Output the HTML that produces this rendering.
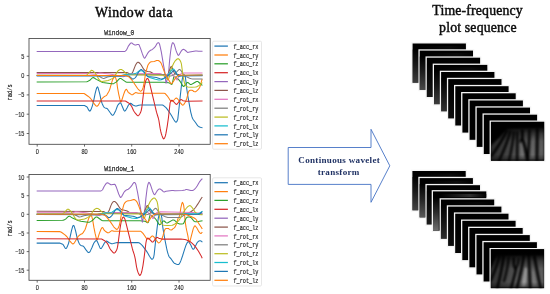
<!DOCTYPE html>
<html><head><meta charset="utf-8"><title>Window data to time-frequency plot sequence</title>
<style>html,body{margin:0;padding:0;background:#fff}body{width:550px;height:294px;overflow:hidden}svg{display:block}</style>
</head><body>
<svg width="550" height="294" viewBox="0 0 550 294">
<defs>
<linearGradient id="gL" x1="0" y1="0" x2="0" y2="1"><stop offset="0" stop-color="#000"/><stop offset="0.45" stop-color="#2c2c2c"/><stop offset="1" stop-color="#707070"/></linearGradient>
<linearGradient id="gT" x1="0" y1="0" x2="1" y2="0"><stop offset="0" stop-color="#000"/><stop offset="0.65" stop-color="#444"/><stop offset="1" stop-color="#000"/></linearGradient>
<linearGradient id="gFadeL" x1="0" y1="0" x2="1" y2="0"><stop offset="0" stop-color="#000" stop-opacity="0.5"/><stop offset="0.6" stop-color="#000" stop-opacity="0"/></linearGradient>
<clipPath id="clipI"><rect x="0" y="0" width="53.3" height="38.9"/></clipPath>
<filter id="blur" x="-20%" y="-20%" width="140%" height="140%"><feGaussianBlur stdDeviation="1.3"/></filter>
<filter id="blur2" x="-20%" y="-20%" width="140%" height="140%"><feGaussianBlur stdDeviation="0.85"/></filter>
<linearGradient id="gFade" x1="0" y1="0" x2="0" y2="1"><stop offset="0" stop-color="#000" stop-opacity="1"/><stop offset="0.13" stop-color="#000" stop-opacity="0.95"/><stop offset="0.3" stop-color="#000" stop-opacity="0.45"/><stop offset="0.5" stop-color="#000" stop-opacity="0.1"/><stop offset="0.84" stop-color="#000" stop-opacity="0"/><stop offset="0.95" stop-color="#000" stop-opacity="0.3"/><stop offset="1" stop-color="#000" stop-opacity="0.7"/></linearGradient>
</defs>
<rect width="550" height="294" fill="#fff"/>
<text x="134.1" y="17.4" text-anchor="middle" font-family="'Liberation Serif', serif" font-size="13.8" letter-spacing="0.42" fill="#0c0c0c" stroke="#0c0c0c" stroke-width="0.45">Window data</text>
<text x="477.6" y="15.2" text-anchor="middle" font-family="'Liberation Serif', serif" font-size="13.8" letter-spacing="0.15" fill="#0c0c0c" stroke="#0c0c0c" stroke-width="0.45">Time-frequency</text>
<text x="477.9" y="32.1" text-anchor="middle" font-family="'Liberation Serif', serif" font-size="13.8" letter-spacing="0.16" fill="#0c0c0c" stroke="#0c0c0c" stroke-width="0.45">plot sequence</text>
<g fill="none" stroke-width="1.05" stroke-linejoin="round" stroke-linecap="square">
<path d="M37.2,105.4 83.3,105.4 84.5,105.6 86.2,106.4 86.8,106.8 87.4,107.6 88.6,109.9 89.2,110.7 89.8,111.1 90.4,110.7 91,109.6 92.1,106.6 92.7,104.6 93.9,99.6 95.1,93.6 96.3,89.2 96.9,87.5 97.5,86.9 98.1,87.8 99.2,91.8 99.8,94.2 101,99.9 101.6,102 102.2,103.7 102.8,105.1 103.4,106.2 104,107.1 104.6,107.6 105.1,107.9 106.3,108.2 106.9,108.5 107.5,108.9 108.1,109.7 109.9,112.3 111.6,114.6 112.2,115.2 112.8,115.3 113.4,114.9 114,114 115.8,110.4 117.5,105.8 118.1,104.8 119.3,103.3 119.9,102.8 120.5,102.8 121.1,103.6 122.3,106.5 124,110.5 124.6,111.1 125.2,110.8 125.8,110.1 127,108 128.2,105.5 128.8,104.7 129.4,104 130,103.5 130.5,103.3 131.1,103.5 132.9,105 134.7,105.8 135.3,105.9 135.9,106 136.5,105.9 138.8,105.2 140.6,104.9 161.9,104.9 162.4,105 163,105.2 163.6,105.6 166,107.7 167.2,109.1 170.7,114.2 171.9,116.2 173.7,119.5 174.9,121.2 175.4,121.9 176,122.2 176.6,121.8 177.2,120.9 177.8,119.1 179,108.2 180.2,96.6 181.9,81.5 182.5,77.9 183.1,75.9 183.7,74.7 184.3,74.7 184.9,75.9 185.5,78 186.1,82.8 186.7,88.5 187.9,96.3 190.2,109.3 190.8,112.3 192,116.9 192.6,118.5 193.2,119.5 195.5,122.5 197.3,125.2 197.9,125.9 198.5,126.4 200.3,127.2 201.4,127.5 202,127.6" stroke="#1f77b4"/>
<path d="M37.2,93.5 83.3,93.5 83.9,93.5 84.5,93.8 88,96.2 89.8,97.7 91,99 91.6,99.8 93.3,102.6 95.7,105.6 96.3,106.1 96.9,106.3 97.5,106 98.1,105.4 99.8,102.5 101,100.2 101.6,99.2 102.8,97.8 104,96.8 105.7,95.9 106.3,95.5 106.9,94.8 108.7,91.8 109.3,90.5 109.9,88.8 112.2,80.9 112.8,79.3 114,77.4 114.6,76.8 115.2,76.9 115.8,78.3 116.4,80.3 117,83.7 117.5,87.7 118.7,94.1 119.9,99.4 120.5,101.5 121.1,101.9 121.7,100.5 123.5,94.9 124.6,91.8 125.2,90.5 125.8,89.6 126.4,89.3 127,90 128.2,92.3 128.8,92.8 131.1,94.4 131.7,94.7 132.3,94.8 132.9,94.5 134.7,93.1 135.3,92.8 135.9,92.6 136.5,92.7 138.2,93.3 164.2,93.2 164.8,93.4 165.4,93.8 167.2,95.8 168.9,98.3 170.1,100.2 170.7,100.6 171.3,101 171.9,101.2 172.5,101.3 173.1,101 175.4,98.5 176,98.1 176.6,98.1 177.2,98.5 179,100.7 180.2,102.6 181.9,104.7 182.5,105.2 183.1,105.1 183.7,104.6 184.9,102.8 185.5,101.7 186.7,98.7 188.4,92.1 189,91 189.6,90.5 190.2,90.2 192,90.2 192.6,90.4 193.2,91 193.8,91.5 194.9,91.8 195.5,91.8 196.1,91.3 197.3,90.3 198.5,89.2 199.1,88.4 199.7,87.3 200.3,85.9 200.9,83.9 201.4,81.5 202,79.7" stroke="#ff7f0e"/>
<path d="M37.2,82 86.8,81.8 87.4,81.6 89.8,80.3 92.1,78 92.7,77.7 93.3,77.6 93.9,77.8 96.3,79.4 101.6,82 102.8,82.4 111.6,83.8 112.8,83.8 113.4,83.7 114,83.4 116.4,81.9 117,81.4 118.7,79.4 119.3,78.8 119.9,78.5 120.5,78.4 121.1,78.6 125.8,81.9 126.4,82.1 163.6,82.2 168.4,82.7 168.9,82.8 169.5,83.1 170.7,83.9 171.3,84.3 171.9,84.4 172.5,82.5 173.7,77.1 174.3,76.2 174.9,76.7 175.4,77.3 176,77.7 177.2,78.3 178.4,79.3 179.6,80.6 181.9,84.2 182.5,85.4 183.1,86.3 183.7,86.5 184.3,86 186.7,83 187.3,82.5 187.9,82.4 188.4,82.8 189.6,83.9 190.2,84.4 190.8,84.5 191.4,84.4 192.6,83.8 196.1,81.7 196.7,81.5 197.3,81.4 197.9,81.6 198.5,82 201.4,84.7 202,85.1" stroke="#2ca02c"/>
<path d="M37.2,101 124.6,101 125.2,101.1 125.8,101.3 128.2,102.7 129.4,103.6 130.5,104.8 131.1,105.6 131.7,106.5 132.3,107.7 133.5,110.5 134.1,111.5 135.3,113.2 137,115.2 137.6,115.7 138.2,115.8 138.8,115.3 139.4,114.5 140,113.5 140.6,112.3 141.2,110.6 141.8,107.7 143.5,93.2 144.1,89 144.7,85.4 145.3,82.6 145.9,80.4 146.5,79.2 147.1,78.5 147.7,78.5 148.3,79.4 148.9,80.6 149.5,82.7 156.5,112.2 158.3,118 158.9,120.5 160.1,128.2 160.7,131.2 161.3,133.5 161.9,135.4 163,138.2 163.6,138.9 164.2,138.5 164.8,137.4 165.4,135.9 166,133.2 167.2,126.4 168.4,118 170.1,102.9 170.7,101.3 171.3,100.4 171.9,100.2 172.5,100.5 174.3,102.3 175.4,103.7 176,104.2 176.6,104.4 177.2,104 180.2,100 180.8,99.6 181.4,99.6 181.9,99.9 183.1,100.7 184.9,101.1 186.1,101.3 202,101.1" stroke="#d62728"/>
<path d="M37.2,51.4 124.6,51.4 125.2,51.2 125.8,50.7 126.4,50.1 127,49.1 128.2,46.4 130,43.9 130.5,43.3 131.1,43 131.7,42.9 132.3,43.3 133.5,44.3 134.7,44.9 135.3,45.1 135.9,45 136.5,44.8 137,44.6 138.2,44.5 138.8,44.6 139.4,45.6 140.6,48.6 142.4,53.9 143.5,56.7 144.1,57.8 144.7,58.2 145.3,57.6 147.7,53.3 148.3,52.4 148.9,51.7 150,50.7 150.6,50.3 151.8,49.8 152.4,49.4 153.6,48.4 154.8,47.1 155.4,46.4 156.5,44.4 157.1,43.5 157.7,42.9 158.3,42.6 158.9,43 159.5,44 160.1,46.3 161.3,51.8 163.6,65.6 164.2,68.6 164.8,72.1 165.4,78.1 166,83.1 166.6,82.4 167.2,79.2 167.8,77 168.4,74.4 168.9,69.3 169.5,61.6 170.1,55.8 170.7,51 171.3,46.9 171.9,44.4 172.5,42.7 173.1,42.8 173.7,43.5 174.3,44.6 176,50.4 176.6,52.1 177.8,54.8 178.4,55.4 179,54.9 180.8,51.8 181.4,50.9 182.5,49.7 183.1,49.4 183.7,49.3 184.3,49.6 185.5,50.5 187.3,52.2 187.9,52.4 188.4,52.3 189.6,51.9 195.5,50.9 196.7,51 198.5,51.3 202,51.2" stroke="#9467bd"/>
<path d="M37.2,72.5 127,72.6 127.6,72.7 128.8,73.4 130.5,73.9 131.1,74 131.7,73.7 132.3,72.9 132.9,71.8 135.3,65.6 135.9,64.4 136.5,63.4 137,62.8 137.6,62.3 138.2,62.2 138.8,62.5 140,63.5 141.2,65 143.5,68.9 144.1,69.7 144.7,70.3 145.9,70.9 147.7,71.4 150,71.8 150.6,72 153.6,73.7 154.2,74 158.9,74.5 164.2,74.5 164.8,74.7 166,75.2 166.6,75.4 167.2,75.4 167.8,74.6 170.7,67 171.3,66.4 171.9,67.2 174.3,73 174.9,73.9 175.4,74.1 178.4,74.6 180.8,75.2 181.9,75.4 202,75.2" stroke="#8c564b"/>
<path d="M37.2,73.4 87.4,73.5 93.9,74.3 95.1,74.3 96.3,74.1 98.6,73.2 99.8,73 109.9,74 116.4,75.3 121.1,76.6 122.9,76.8 123.5,76.8 124,76.6 127,74.9 127.6,74.6 132.3,73.7 160.1,73.6 160.7,73.7 161.3,74 163.6,75.6 164.2,75.8 164.8,76 165.4,75.9 166,75.7 167.2,74.8 168.4,73.8 168.9,73.3 169.5,73.1 170.1,73 170.7,73.1 171.3,73.5 171.9,73.9 174.9,77.1 175.4,77.9 176,79 176.6,79.8 177.2,79.9 177.8,78.8 178.4,77.3 179,76 180.2,74.4 180.8,73.9 182.5,73.3 183.7,73 202,73" stroke="#e377c2"/>
<path d="M37.2,75.3 96.3,75.4 96.9,75.5 98.1,75.9 100.4,77 102.2,78.1 102.8,78.3 103.4,78.4 104,78.4 105.1,78 107.5,77.1 111.6,76.3 120.5,75.9 124.6,74.8 165.4,74.5 166.6,74.9 168.9,75.8 169.5,76 170.1,76 171.3,75.8 172.5,75.4 174.9,74.1 175.4,73.6 177.2,71.3 178.4,70.1 179,69.6 179.6,69.4 180.2,69.8 181.4,71.2 182.5,73.3 183.1,74.2 184.3,75.4 184.9,75.9 186.1,76.6 189.6,78.3 191.4,78.7 192.6,78.9 202,78.9" stroke="#7f7f7f"/>
<path d="M37.2,75.3 86.2,75.3 86.8,75 89.2,72.6 90.4,71.2 91,70.7 91.6,70.3 92.1,70.4 92.7,70.6 94.5,72.3 95.1,73 97.5,76.8 98.6,78.9 99.2,79.7 100.4,80.8 101,81.3 101.6,81.5 102.2,81.6 108.1,80.4 109.9,79.8 111.6,78.9 112.8,78.1 113.4,77.6 114.6,76.1 117.5,71.6 118.1,70.8 119.3,70 119.9,69.6 120.5,69.4 121.1,69.4 121.7,69.6 123.5,70.8 124,71.3 125.8,73.1 127,74 127.6,74.4 130,74.8 163,75.3 163.6,75.5 164.2,76.1 165.4,77.4 167.2,79 167.8,79.4 168.4,79.4 168.9,78.2 169.5,76 170.1,73.4 170.7,70.3 171.3,68.5 173.7,63.3 174.9,61.3 175.4,60.6 176.6,59.5 177.2,59 177.8,58.7 178.4,58.8 179,59.2 180.2,60.7 180.8,61.9 181.4,63.8 181.9,67.6 183.1,76.2 183.7,79.6 184.3,82.3 184.9,84.3 185.5,85.3 186.1,86 186.7,86.4 187.9,86.9 191.4,87.3 195.5,87 196.1,86.9 197.3,86.5 199.1,85.4 201.4,83.5 202,82.9" stroke="#bcbd22"/>
<path d="M37.2,75.5 121.1,75.5 125.8,74.7 128.2,74.3 134.1,73.7 135.9,73.3 137,72.6 138.2,71.6 139.4,71.1 141.2,70.7 141.8,70.7 143,71.4 144.1,72.4 147.1,76 147.7,76.6 148.3,77.1 149.5,77.6 155.4,79.3 158.9,79.9 160.1,79.9 161.3,79.7 163.6,78.7 164.8,77.9 166,77 167.2,75.8 168.9,73.5 170.7,71.1 172.5,69.4 173.1,69.1 173.7,69.1 174.3,69.7 175.4,71.5 176.6,73.5 177.8,75.2 178.4,76 179,76.3 179.6,76.2 181.4,75.6 202,75.1" stroke="#17becf"/>
<path d="M37.2,76 128.2,75.9 128.8,76 129.4,76.3 132.3,78.9 132.9,79.1 133.5,78.9 134.7,78.1 135.3,77.6 135.9,76.9 136.5,76 138.2,72.8 139.4,71 140.6,69.7 141.2,69.5 141.8,69.8 143,70.7 144.1,71.9 144.7,72.6 145.9,74.6 147.1,75.9 147.7,76.4 148.3,76.6 156.5,77.6 157.7,77.9 160.1,78.8 161.3,79.1 161.9,79.1 163.6,78.4 166,77 171.3,72.8 173.1,70.9 173.7,70.6 174.3,70.6 174.9,71.2 175.4,72 176.6,74 177.8,75.6 178.4,76 202,75.8" stroke="#1f77b4"/>
<path d="M37.2,75.5 125.2,75.4 126.4,75.7 128.2,76.4 128.8,76.8 130.5,78.4 131.7,79.8 134.1,83.2 137.6,88.5 138.2,89.2 139.4,90.4 140,90.9 140.6,91.2 141.2,91 141.8,90.4 142.4,89.4 143,87.9 143.5,85.8 144.1,82.8 145.3,75.1 145.9,72 147.7,65.8 148.3,64.5 148.9,63.7 150,62.4 150.6,62 151.2,61.8 154.2,61.4 155.4,61.1 156.5,60.6 157.1,60.5 157.7,60.4 158.3,60.5 159.5,61.2 160.1,61.8 160.7,62.6 161.3,63.6 162.4,66.4 164.8,73.1 165.4,74.4 167.8,78.6 170.7,83.3 171.3,83.8 171.9,83.5 173.1,81.9 174.9,78.9 176,77.3 176.6,76.7 177.2,76.2 178.4,75.6 179.6,75.2 202,75.1" stroke="#ff7f0e"/>
</g>
<rect x="29" y="38.5" width="181.2" height="105.8" fill="none" stroke="#454545" stroke-width="0.85"/>
<g stroke="#454545" stroke-width="0.8">
<line x1="37.2" y1="144.3" x2="37.2" y2="146.6"/>
<line x1="84.5" y1="144.3" x2="84.5" y2="146.6"/>
<line x1="131.7" y1="144.3" x2="131.7" y2="146.6"/>
<line x1="179" y1="144.3" x2="179" y2="146.6"/>
<line x1="26.7" y1="56.3" x2="29" y2="56.3"/>
<line x1="26.7" y1="75.6" x2="29" y2="75.6"/>
<line x1="26.7" y1="94.9" x2="29" y2="94.9"/>
<line x1="26.7" y1="114.2" x2="29" y2="114.2"/>
<line x1="26.7" y1="133.5" x2="29" y2="133.5"/>
</g>
<g font-family="'Liberation Sans', sans-serif" font-size="6.9" fill="#262626" stroke="#262626" stroke-width="0.12">
<text x="37.2" y="153.8" text-anchor="middle" textLength="3.1" lengthAdjust="spacingAndGlyphs">0</text>
<text x="84.5" y="153.8" text-anchor="middle" textLength="6.2" lengthAdjust="spacingAndGlyphs">80</text>
<text x="131.7" y="153.8" text-anchor="middle" textLength="9.3" lengthAdjust="spacingAndGlyphs">160</text>
<text x="179" y="153.8" text-anchor="middle" textLength="9.3" lengthAdjust="spacingAndGlyphs">240</text>
<text x="24.4" y="58.8" text-anchor="end" textLength="3.1" lengthAdjust="spacingAndGlyphs">5</text>
<text x="24.4" y="78.1" text-anchor="end" textLength="3.1" lengthAdjust="spacingAndGlyphs">0</text>
<text x="24.4" y="97.4" text-anchor="end" textLength="6.3" lengthAdjust="spacingAndGlyphs">−5</text>
<text x="24.4" y="116.7" text-anchor="end" textLength="9.4" lengthAdjust="spacingAndGlyphs">−10</text>
<text x="24.4" y="136" text-anchor="end" textLength="9.4" lengthAdjust="spacingAndGlyphs">−15</text>
</g>
<text x="119.3" y="34.7" text-anchor="middle" font-family="'Liberation Mono', monospace" font-size="8" textLength="30.2" lengthAdjust="spacingAndGlyphs" fill="#262626" stroke="#262626" stroke-width="0.25">Window_0</text>
<text transform="translate(11.6 92.3) rotate(-90)" text-anchor="middle" font-family="'Liberation Mono', monospace" font-size="7.3" textLength="16.3" lengthAdjust="spacingAndGlyphs" fill="#262626" stroke="#262626" stroke-width="0.2">rad/s</text>
<rect x="212.6" y="41.2" width="48.9" height="108" rx="1.2" fill="#fff" stroke="#dcdcdc" stroke-width="0.7"/>
<g stroke-width="1.25">
<line x1="214.4" y1="46.1" x2="227.9" y2="46.1" stroke="#1f77b4"/>
<line x1="214.4" y1="55" x2="227.9" y2="55" stroke="#ff7f0e"/>
<line x1="214.4" y1="63.8" x2="227.9" y2="63.8" stroke="#2ca02c"/>
<line x1="214.4" y1="72.7" x2="227.9" y2="72.7" stroke="#d62728"/>
<line x1="214.4" y1="81.6" x2="227.9" y2="81.6" stroke="#9467bd"/>
<line x1="214.4" y1="90.4" x2="227.9" y2="90.4" stroke="#8c564b"/>
<line x1="214.4" y1="99.3" x2="227.9" y2="99.3" stroke="#e377c2"/>
<line x1="214.4" y1="108.2" x2="227.9" y2="108.2" stroke="#7f7f7f"/>
<line x1="214.4" y1="117.1" x2="227.9" y2="117.1" stroke="#bcbd22"/>
<line x1="214.4" y1="125.9" x2="227.9" y2="125.9" stroke="#17becf"/>
<line x1="214.4" y1="134.8" x2="227.9" y2="134.8" stroke="#1f77b4"/>
<line x1="214.4" y1="143.7" x2="227.9" y2="143.7" stroke="#ff7f0e"/>
</g>
<g font-family="'Liberation Mono', monospace" font-size="7.5" fill="#262626" stroke="#262626" stroke-width="0.2">
<text x="233.4" y="48.7" textLength="25" lengthAdjust="spacingAndGlyphs">f_acc_rx</text>
<text x="233.4" y="57.6" textLength="25" lengthAdjust="spacingAndGlyphs">f_acc_ry</text>
<text x="233.4" y="66.4" textLength="25" lengthAdjust="spacingAndGlyphs">f_acc_rz</text>
<text x="233.4" y="75.3" textLength="25" lengthAdjust="spacingAndGlyphs">f_acc_lx</text>
<text x="233.4" y="84.2" textLength="25" lengthAdjust="spacingAndGlyphs">f_acc_ly</text>
<text x="233.4" y="93" textLength="25" lengthAdjust="spacingAndGlyphs">f_acc_lz</text>
<text x="233.4" y="101.9" textLength="25" lengthAdjust="spacingAndGlyphs">f_rot_rx</text>
<text x="233.4" y="110.8" textLength="25" lengthAdjust="spacingAndGlyphs">f_rot_ry</text>
<text x="233.4" y="119.7" textLength="25" lengthAdjust="spacingAndGlyphs">f_rot_rz</text>
<text x="233.4" y="128.5" textLength="25" lengthAdjust="spacingAndGlyphs">f_rot_lx</text>
<text x="233.4" y="137.4" textLength="25" lengthAdjust="spacingAndGlyphs">f_rot_ly</text>
<text x="233.4" y="146.3" textLength="25" lengthAdjust="spacingAndGlyphs">f_rot_lz</text>
</g>
<g fill="none" stroke-width="1.05" stroke-linejoin="round" stroke-linecap="square">
<path d="M37.2,243.1 59.7,243.1 60.8,243.4 62.6,244.2 63.2,244.7 65,247.8 65.6,248.5 66.1,248.5 66.7,247.8 67.3,246.6 68.5,243.5 69.7,238.9 71.5,230.6 72.6,226.6 73.2,225.4 73.8,225.5 74.4,226.8 75.6,230.9 76.8,236.3 77.4,238.8 78,240.5 78.6,242.1 79.1,243.3 79.7,244.3 80.3,245 80.9,245.4 82.7,245.9 83.3,246.2 83.9,246.8 85.6,249.4 87.4,251.6 88,252.3 88.6,252.6 89.2,252.5 89.8,251.9 90.4,250.9 92.1,247.3 93.3,244.2 93.9,243 95.1,241.4 95.7,240.8 96.3,240.5 96.9,240.8 97.5,242 99.8,247.4 100.4,248.4 101,248.6 101.6,248.1 103.4,245.1 104,243.8 104.6,242.8 105.7,241.5 106.3,241.1 106.9,241.1 107.5,241.5 108.7,242.5 110.5,243.3 111.6,243.7 112.2,243.7 113.4,243.4 115.2,242.9 117,242.6 138.2,242.6 138.8,242.7 139.4,243 140.6,243.9 142.4,245.6 146.5,251.1 147.7,253 149.5,256.2 151.2,258.7 151.8,259.3 152.4,259.2 153,258.6 153.6,257.5 154.2,254.3 156,237.4 158.3,218.1 158.9,215.6 159.5,213.9 160.1,213.2 160.7,213.8 161.3,215.4 161.9,218.2 162.4,224.1 163,228.7 164.8,239.1 166.6,248.2 167.2,250.8 167.8,253.1 168.4,254.9 168.9,256.2 169.5,257.1 171.3,259.2 173.7,262.6 174.3,263.2 174.9,263.6 176.6,264.2 177.8,264.5 178.4,264.5 179,264.2 180.2,262.2 180.8,260.9 182.5,256 184.9,248.3 186.1,244.9 186.7,243.7 187.3,242.6 187.9,241.8 188.4,241.6 189,242.1 190.8,245 192,247.7 192.6,248.8 193.2,249.3 193.8,249 194.4,248.1 196.1,244.8 196.7,243.5 197.3,242.4 198.5,241.3 199.1,241 199.7,240.8 200.3,240.8 200.9,241 201.4,241.3 202,241.8" stroke="#1f77b4"/>
<path d="M37.2,231.5 59.7,231.6 60.2,231.7 61.4,232.3 65,234.9 66.7,236.5 67.3,237.2 69.7,240.8 71.5,242.9 72.1,243.5 72.6,243.9 73.2,243.9 73.8,243.5 74.4,242.7 76.2,239.8 77.4,237.6 78,236.7 79.1,235.5 80.3,234.6 82.1,233.8 82.7,233.2 83.3,232.4 84.5,230.5 85.1,229.4 85.6,228 88.6,218.7 89.2,217.4 89.8,216.5 90.4,215.7 91,215.4 91.6,216 92.1,217.7 92.7,220.1 93.9,227.4 95.1,233.4 96.3,238.3 96.9,239.8 97.5,239.3 98.6,235.9 99.2,233.9 101,229.3 101.6,228.2 102.2,227.6 102.8,227.8 103.4,228.7 104,229.9 104.6,230.7 105.7,231.5 107.5,232.7 108.1,232.8 108.7,232.8 109.3,232.4 111,231.1 111.6,230.8 112.2,230.7 114,231.3 140.6,231.3 141.2,231.6 143,233.4 144.7,235.8 145.9,237.6 146.5,238.3 147.7,239 148.3,239.1 148.9,239 149.5,238.6 151.8,236.2 152.4,235.9 153,236.2 153.6,236.7 154.8,238.1 156.5,240.7 157.7,242.1 158.3,242.7 158.9,242.9 159.5,242.6 160.1,242 161.3,240.2 161.9,239 162.4,237.5 163,235.7 164.2,231.4 164.8,229.6 165.4,228.9 166,228.5 166.6,228.4 168.4,228.4 168.9,228.9 169.5,229.4 170.1,229.7 171.3,230 171.9,229.8 173.1,228.7 174.3,227.8 174.9,227.2 175.4,226.2 176,225 176.6,223.5 177.8,219.1 178.4,217.8 179,217 179.6,215.7 180.2,212.3 180.8,208.2 181.4,205.5 181.9,203.3 182.5,202.4 183.1,203.4 183.7,205.6 184.3,210.1 184.9,218.8 185.5,223.7 186.1,227.4 186.7,230.5 187.9,235.8 188.4,239 189,241.6 189.6,242 190.2,240.3 193.2,228.9 193.8,227.4 194.4,226.2 194.9,225.8 195.5,226.2 196.7,227.8 198.5,231.1 199.7,232.7 200.3,233.3 200.9,233.5 201.4,233.2 202,232.4" stroke="#ff7f0e"/>
<path d="M37.2,220.5 62.6,220.3 63.2,220.2 64.4,219.7 65.6,219.1 66.1,218.6 67.9,216.9 68.5,216.4 69.1,216.2 69.7,216.3 70.3,216.6 72.6,218.1 78,220.6 80.9,221.3 88,222.2 89.2,222.2 89.8,222 91,221.4 92.7,220.2 93.3,219.7 95.1,217.7 95.7,217.2 96.3,217 96.9,217.1 97.5,217.3 101.6,220.2 102.2,220.5 102.8,220.7 140,220.7 144.7,221.2 145.3,221.4 147.1,222.5 147.7,222.8 148.3,222.3 149.5,217.1 150,215 150.6,215 151.8,216.1 153.6,217.1 154.8,218.2 156,219.5 157.7,222.1 158.9,224.2 159.5,224.8 160.1,224.6 160.7,224 163,221.2 163.6,220.9 164.2,221 164.8,221.5 166,222.6 166.6,222.9 167.2,222.9 167.8,222.7 172.5,220.1 173.1,219.9 173.7,219.9 174.3,220.2 176,221.7 177.2,222.9 177.8,223.3 179.6,223.9 180.2,224 181.9,223.9 183.1,223.7 183.7,223.3 186.1,218.2 186.7,217.6 187.9,217.1 188.4,217 189,217 189.6,217.1 190.8,217.5 191.4,217.9 193.8,221 194.4,221.4 195.5,221.7 196.7,221.8 202,220.8" stroke="#2ca02c"/>
<path d="M37.2,238.8 101,238.9 101.6,239 104.6,240.7 105.7,241.6 106.3,242.2 106.9,242.8 108.1,244.6 109.3,247.3 109.9,248.5 111,250.2 113.4,252.8 114,253.1 114.6,253 115.2,252.4 116.4,250.5 117,249.1 117.5,247.2 118.1,243.4 119.9,229.4 120.5,225.6 121.1,222.5 121.7,220 122.3,218.3 122.9,217.4 123.5,217 124,217.4 124.6,218.5 125.2,219.9 132.3,248.4 132.9,250.5 134.1,254.2 134.7,256.3 135.3,259.1 136.5,266.6 137,269 137.6,271.1 138.2,272.7 138.8,274.1 139.4,275.2 140,275.4 140.6,274.7 141.2,273.4 141.8,271.5 143,265.3 144.1,257.7 145.9,243 146.5,239.8 147.1,238.7 147.7,238.1 148.3,238.2 148.9,238.6 150.6,240.4 151.8,241.7 152.4,242.1 153,242 153.6,241.4 154.8,239.7 156.5,237.6 157.1,237.4 157.7,237.6 158.9,238.3 159.5,238.6 161.9,239.1 180.8,239 184.9,239.5 186.7,240 190.2,241.8 191.4,242.6 193.8,244.8 195.5,246.9 198.5,251.2 200.9,255.4 202,257.8" stroke="#d62728"/>
<path d="M37.2,190.9 101,190.9 101.6,190.6 102.2,190 102.8,189.3 104,186.7 104.6,185.7 105.7,184.1 106.3,183.4 106.9,182.9 107.5,182.7 108.1,182.9 109.3,183.8 110.5,184.5 111,184.8 111.6,184.8 112.8,184.4 114.6,184.2 115.2,184.7 116.4,187.3 118.7,194 119.9,196.6 120.5,197.4 121.1,197.3 121.7,196.5 124,192.3 124.6,191.5 125.8,190.4 126.4,190 128.2,189.2 128.8,188.8 130.5,187.2 131.7,185.7 132.9,183.7 133.5,183 134.1,182.5 134.7,182.5 135.3,183.2 135.9,184.5 137.6,192.6 139.4,202.9 140.6,208.9 141.2,213.4 141.8,219 142.4,222.2 143.5,216.8 144.1,214.6 144.7,211.5 145.9,198.1 147.1,188.5 147.7,185.4 148.3,183.3 148.9,182.4 149.5,182.8 150,183.7 150.6,185.2 152.4,190.7 153.6,193.6 154.2,194.6 154.8,194.7 155.4,193.8 156,192.7 157.1,190.9 157.7,190.1 158.9,189.1 159.5,188.9 160.1,189 160.7,189.4 161.9,190.2 163,191.4 163.6,191.8 164.2,191.9 166,191.3 171.9,190.4 173.1,190.5 174.9,190.8 182.5,190.4 184.9,189.9 186.1,189.6 186.7,189.5 187.9,189.7 190.8,190.5 192,190.6 192.6,190.5 193.2,190.3 194.4,189.4 194.9,188.9 196.1,187.5 197.3,185.7 199.7,181.6 200.9,180.2 202,179" stroke="#9467bd"/>
<path d="M37.2,211.3 102.8,211.4 103.4,211.4 105.1,212.3 106.9,212.7 107.5,212.7 108.1,212.2 108.7,211.2 109.3,210 111,205.4 111.6,204.1 112.2,203 112.8,202.2 113.4,201.7 114,201.4 114.6,201.4 115.2,201.8 116.4,202.9 117.5,204.4 119.9,208.2 120.5,208.9 121.1,209.3 122.3,209.8 126.4,210.7 127.6,211.3 129.4,212.4 130,212.6 134.7,213.2 140,213.2 140.6,213.3 142.4,214.1 143,214.2 143.5,213.9 144.1,212.7 145.3,209.5 146.5,206.7 147.1,205.6 147.7,205.6 148.3,206.8 148.9,208.3 150,211.1 150.6,212.3 151.2,212.8 154.8,213.4 157.1,214 184.3,213.7 187.9,213.3 188.4,213.1 190.8,211.8 192.6,210.5 193.8,209.5 195.5,207.5 197.9,203.9 200.9,199 202,197.4" stroke="#8c564b"/>
<path d="M37.2,212.2 63.2,212.2 70.3,213 71.5,213 72.6,212.8 75,211.9 75.6,211.8 85.6,212.7 92.7,214.1 96.9,215.2 98.6,215.4 99.2,215.5 99.8,215.4 101,214.8 103.4,213.5 108.1,212.5 135.9,212.4 136.5,212.4 137,212.6 140,214.4 140.6,214.6 141.2,214.7 141.8,214.5 142.4,214.2 144.7,212.3 145.3,212 145.9,211.8 146.5,211.8 147.1,212 147.7,212.4 148.9,213.5 151.2,216.1 152.4,218 153,218.5 153.6,218.1 154.8,215.3 155.4,214.3 156,213.6 156.5,212.9 157.1,212.5 158.9,212 160.1,211.8 193.2,212.4 202,213.5" stroke="#e377c2"/>
<path d="M37.2,214 72.6,214.1 73.2,214.2 76.8,215.8 78.6,216.8 79.1,217 79.7,217 80.9,216.8 83.9,215.7 88,214.9 96.3,214.7 98.1,214.3 100.4,213.6 141.2,213.2 141.8,213.3 145.3,214.6 145.9,214.7 147.1,214.6 148.3,214.2 150.6,213 151.2,212.7 151.8,212.1 153,210.5 154.8,208.7 155.4,208.3 156,208.4 156.5,208.9 157.7,210.5 158.9,212.5 160.1,213.8 160.7,214.4 161.9,215.1 165.4,216.8 167.8,217.4 179.6,217.4 180.2,217.4 180.8,217.2 183.1,215.9 184.9,214.6 185.5,214.4 189.6,214 202,214.1" stroke="#7f7f7f"/>
<path d="M37.2,214.1 62,214.1 62.6,213.9 63.2,213.5 65.6,211.1 66.7,209.8 67.3,209.3 67.9,209.2 68.5,209.3 69.1,209.7 70.9,211.4 72.1,213.1 75,217.9 75.6,218.6 76.8,219.6 77.4,219.9 78,220.1 79.1,220 84.5,218.9 86.2,218.3 88,217.4 89.2,216.5 89.8,216 92.7,211.8 93.9,210.1 94.5,209.4 95.7,208.7 96.3,208.4 96.9,208.3 97.5,208.4 98.1,208.6 99.8,209.8 101.6,211.6 103.4,212.9 104,213.2 106.9,213.7 138.8,214 139.4,214.1 140,214.4 141.8,216.3 143.5,217.8 144.1,218.1 144.7,217.6 145.3,215.9 145.9,213.7 146.5,210.7 147.1,208.3 147.7,206.8 149.5,203 150,201.9 151.2,200.2 151.8,199.5 153,198.5 153.6,198.1 154.2,198 154.8,198.2 155.4,198.8 156.5,200.4 157.1,201.7 157.7,204.4 158.9,212.8 159.5,216.4 160.1,219.4 160.7,221.8 161.3,223.2 161.9,224 162.4,224.6 163,224.9 164.2,225.2 167.8,225.6 171.9,225.3 172.5,225.2 174.9,224 177.2,222.2 178.4,221 179.6,219.4 183.7,212 186.1,208.5 187.3,207.2 188.4,206.2 189,205.9 189.6,205.6 190.2,205.7 190.8,206 192.6,208.1 193.2,208.9 194.4,210.9 194.9,211.8 196.1,212.9 197.3,213.9 197.9,214.2 198.5,214.4 201.4,214.8 202,214.8" stroke="#bcbd22"/>
<path d="M37.2,214.2 96.9,214.2 102.2,213.4 104,213.1 109.9,212.5 111.6,212.2 112.2,212 113.4,211.2 114,210.7 114.6,210.3 115.8,209.8 117,209.6 117.5,209.6 118.1,209.7 119.3,210.4 120.5,211.5 122.3,213.7 124,215.5 124.6,215.9 126.4,216.5 131.7,217.9 135.3,218.4 136.5,218.4 137.6,218.1 139.4,217.5 140.6,216.8 142.4,215.4 144.7,212.7 146.5,210.3 148.3,208.5 148.9,208.1 149.5,207.9 150,208.2 151.2,209.8 153,212.6 154.2,214.3 154.8,214.9 155.4,215 157.7,214.3 197.9,213.5 198.5,213.4 199.7,212.9 200.9,212.3 202,211.4" stroke="#17becf"/>
<path d="M37.2,214.5 104.6,214.6 105.1,214.8 106.9,216.2 108.1,217.3 108.7,217.6 109.3,217.6 109.9,217.4 111,216.5 111.6,215.9 112.2,215.2 114.6,211.2 115.2,210.3 115.8,209.5 116.4,208.9 117,208.5 117.5,208.5 118.7,209.3 119.9,210.3 121.1,211.8 121.7,212.8 122.3,213.6 123.5,214.8 124,215.2 132.9,216.3 134.1,216.6 136.5,217.5 137,217.6 137.6,217.7 138.2,217.6 140,216.9 143,215.1 147.7,211.3 148.9,210.1 149.5,209.6 150,209.4 150.6,209.7 151.8,211.3 152.4,212.3 153.6,213.9 154.2,214.5 154.8,214.7 198.5,214.4 199.1,214.3 201.4,212.5 202,211.9" stroke="#1f77b4"/>
<path d="M37.2,214.2 101.6,214.1 102.8,214.4 104.6,215.2 105.7,216.2 106.9,217.3 109.9,221.1 113.4,226.3 114,227.1 115.8,228.8 116.4,229.2 117,229.4 117.5,229 118.1,228.2 118.7,227.1 119.3,225.3 119.9,223 121.7,212.3 122.3,209.9 122.9,208 123.5,205.8 124,204.2 124.6,203.2 125.8,201.9 126.4,201.4 127,201.1 130.5,200.6 132.9,199.8 133.5,199.6 134.1,199.6 134.7,199.8 135.9,200.6 136.5,201.3 137,202.1 137.6,203.2 138.8,206.1 140.6,211 141.2,212.4 143.5,216.7 145.9,220.3 146.5,221.3 147.1,222.1 147.7,222.1 148.3,221.6 149.5,220 151.2,217.1 152.4,215.7 153,215.1 153.6,214.7 154.8,214.2 156,213.9 180.8,213.9 185.5,214.4 186.7,214.7 193.8,217.8 194.9,218.5 195.5,218.9 196.1,219.5 201.4,227.5 202,228.5" stroke="#ff7f0e"/>
</g>
<rect x="29" y="174.5" width="181.2" height="105.8" fill="none" stroke="#454545" stroke-width="0.85"/>
<g stroke="#454545" stroke-width="0.8">
<line x1="37.2" y1="280.3" x2="37.2" y2="282.6"/>
<line x1="84.5" y1="280.3" x2="84.5" y2="282.6"/>
<line x1="131.7" y1="280.3" x2="131.7" y2="282.6"/>
<line x1="179" y1="280.3" x2="179" y2="282.6"/>
<line x1="26.7" y1="177" x2="29" y2="177"/>
<line x1="26.7" y1="195.7" x2="29" y2="195.7"/>
<line x1="26.7" y1="214.3" x2="29" y2="214.3"/>
<line x1="26.7" y1="233" x2="29" y2="233"/>
<line x1="26.7" y1="251.6" x2="29" y2="251.6"/>
<line x1="26.7" y1="270.2" x2="29" y2="270.2"/>
</g>
<g font-family="'Liberation Sans', sans-serif" font-size="6.9" fill="#262626" stroke="#262626" stroke-width="0.12">
<text x="37.2" y="289.8" text-anchor="middle" textLength="3.1" lengthAdjust="spacingAndGlyphs">0</text>
<text x="84.5" y="289.8" text-anchor="middle" textLength="6.2" lengthAdjust="spacingAndGlyphs">80</text>
<text x="131.7" y="289.8" text-anchor="middle" textLength="9.3" lengthAdjust="spacingAndGlyphs">160</text>
<text x="179" y="289.8" text-anchor="middle" textLength="9.3" lengthAdjust="spacingAndGlyphs">240</text>
<text x="24.4" y="179.5" text-anchor="end" textLength="6.2" lengthAdjust="spacingAndGlyphs">10</text>
<text x="24.4" y="198.2" text-anchor="end" textLength="3.1" lengthAdjust="spacingAndGlyphs">5</text>
<text x="24.4" y="216.8" text-anchor="end" textLength="3.1" lengthAdjust="spacingAndGlyphs">0</text>
<text x="24.4" y="235.5" text-anchor="end" textLength="6.3" lengthAdjust="spacingAndGlyphs">−5</text>
<text x="24.4" y="254.1" text-anchor="end" textLength="9.4" lengthAdjust="spacingAndGlyphs">−10</text>
<text x="24.4" y="272.8" text-anchor="end" textLength="9.4" lengthAdjust="spacingAndGlyphs">−15</text>
</g>
<text x="119.3" y="170.7" text-anchor="middle" font-family="'Liberation Mono', monospace" font-size="8" textLength="30.2" lengthAdjust="spacingAndGlyphs" fill="#262626" stroke="#262626" stroke-width="0.25">Window_1</text>
<text transform="translate(11.6 228.3) rotate(-90)" text-anchor="middle" font-family="'Liberation Mono', monospace" font-size="7.3" textLength="16.3" lengthAdjust="spacingAndGlyphs" fill="#262626" stroke="#262626" stroke-width="0.2">rad/s</text>
<rect x="212.6" y="177.8" width="48.9" height="108.2" rx="1.2" fill="#fff" stroke="#dcdcdc" stroke-width="0.7"/>
<g stroke-width="1.25">
<line x1="214.4" y1="182.7" x2="227.9" y2="182.7" stroke="#1f77b4"/>
<line x1="214.4" y1="191.6" x2="227.9" y2="191.6" stroke="#ff7f0e"/>
<line x1="214.4" y1="200.4" x2="227.9" y2="200.4" stroke="#2ca02c"/>
<line x1="214.4" y1="209.3" x2="227.9" y2="209.3" stroke="#d62728"/>
<line x1="214.4" y1="218.2" x2="227.9" y2="218.2" stroke="#9467bd"/>
<line x1="214.4" y1="227.1" x2="227.9" y2="227.1" stroke="#8c564b"/>
<line x1="214.4" y1="235.9" x2="227.9" y2="235.9" stroke="#e377c2"/>
<line x1="214.4" y1="244.8" x2="227.9" y2="244.8" stroke="#7f7f7f"/>
<line x1="214.4" y1="253.7" x2="227.9" y2="253.7" stroke="#bcbd22"/>
<line x1="214.4" y1="262.5" x2="227.9" y2="262.5" stroke="#17becf"/>
<line x1="214.4" y1="271.4" x2="227.9" y2="271.4" stroke="#1f77b4"/>
<line x1="214.4" y1="280.3" x2="227.9" y2="280.3" stroke="#ff7f0e"/>
</g>
<g font-family="'Liberation Mono', monospace" font-size="7.5" fill="#262626" stroke="#262626" stroke-width="0.2">
<text x="233.4" y="185.3" textLength="25" lengthAdjust="spacingAndGlyphs">f_acc_rx</text>
<text x="233.4" y="194.2" textLength="25" lengthAdjust="spacingAndGlyphs">f_acc_ry</text>
<text x="233.4" y="203" textLength="25" lengthAdjust="spacingAndGlyphs">f_acc_rz</text>
<text x="233.4" y="211.9" textLength="25" lengthAdjust="spacingAndGlyphs">f_acc_lx</text>
<text x="233.4" y="220.8" textLength="25" lengthAdjust="spacingAndGlyphs">f_acc_ly</text>
<text x="233.4" y="229.7" textLength="25" lengthAdjust="spacingAndGlyphs">f_acc_lz</text>
<text x="233.4" y="238.5" textLength="25" lengthAdjust="spacingAndGlyphs">f_rot_rx</text>
<text x="233.4" y="247.4" textLength="25" lengthAdjust="spacingAndGlyphs">f_rot_ry</text>
<text x="233.4" y="256.3" textLength="25" lengthAdjust="spacingAndGlyphs">f_rot_rz</text>
<text x="233.4" y="265.1" textLength="25" lengthAdjust="spacingAndGlyphs">f_rot_lx</text>
<text x="233.4" y="274" textLength="25" lengthAdjust="spacingAndGlyphs">f_rot_ly</text>
<text x="233.4" y="282.9" textLength="25" lengthAdjust="spacingAndGlyphs">f_rot_lz</text>
</g>
<path d="M288.2,147.5 H371 V129.3 L389.8,165.8 L371,202.3 V184.4 H288.2 Z" fill="#fff" stroke="#4472c4" stroke-width="0.9" stroke-linejoin="miter"/>
<text x="339.2" y="163.4" text-anchor="middle" font-family="'Liberation Serif', serif" font-weight="bold" font-size="9.05" letter-spacing="0.31" fill="#203264">Continuous wavelet</text>
<text x="338.7" y="174.9" text-anchor="middle" font-family="'Liberation Serif', serif" font-weight="bold" font-size="9.05" letter-spacing="0.31" fill="#203264">transform</text>
<rect x="411.3" y="42.2" width="55.9" height="41.9" fill="#f4f4f4"/>
<rect x="412.6" y="43.5" width="53.3" height="39.3" fill="#000"/>
<rect x="412.6" y="49.5" width="5.8" height="33.3" fill="url(#gL)" opacity="0.55"/>
<rect x="419.6" y="46" width="46.3" height="3.3" fill="url(#gT)" opacity="0.14"/>
<rect x="418.4" y="49.3" width="55.9" height="41.9" fill="#f4f4f4"/>
<rect x="419.7" y="50.6" width="53.3" height="39.3" fill="#000"/>
<rect x="419.7" y="56.6" width="5.8" height="33.3" fill="url(#gL)" opacity="0.65"/>
<rect x="426.7" y="53.1" width="46.3" height="3.3" fill="url(#gT)" opacity="0.16"/>
<rect x="425.5" y="56.4" width="55.9" height="41.9" fill="#f4f4f4"/>
<rect x="426.8" y="57.7" width="53.3" height="39.3" fill="#000"/>
<rect x="426.8" y="63.7" width="5.8" height="33.3" fill="url(#gL)" opacity="0.2"/>
<rect x="433.8" y="60.2" width="46.3" height="3.3" fill="url(#gT)" opacity="0.05"/>
<rect x="432.7" y="63.6" width="55.9" height="41.9" fill="#f4f4f4"/>
<rect x="434" y="64.9" width="53.3" height="39.3" fill="#000"/>
<rect x="434" y="70.9" width="5.8" height="33.3" fill="url(#gL)" opacity="0.55"/>
<rect x="441" y="67.4" width="46.3" height="3.3" fill="url(#gT)" opacity="0.14"/>
<rect x="439.8" y="70.7" width="55.9" height="41.9" fill="#f4f4f4"/>
<rect x="441.1" y="72" width="53.3" height="39.3" fill="#000"/>
<rect x="441.1" y="78" width="5.8" height="33.3" fill="url(#gL)" opacity="0.45"/>
<rect x="448.1" y="74.5" width="46.3" height="3.3" fill="url(#gT)" opacity="0.11"/>
<rect x="446.9" y="77.8" width="55.9" height="41.9" fill="#f4f4f4"/>
<rect x="448.2" y="79.1" width="53.3" height="39.3" fill="#000"/>
<rect x="448.2" y="85.1" width="5.8" height="33.3" fill="url(#gL)" opacity="0.12"/>
<rect x="455.2" y="81.6" width="46.3" height="3.3" fill="url(#gT)" opacity="0.03"/>
<rect x="454" y="84.9" width="55.9" height="41.9" fill="#f4f4f4"/>
<rect x="455.3" y="86.2" width="53.3" height="39.3" fill="#000"/>
<rect x="455.3" y="92.2" width="5.8" height="33.3" fill="url(#gL)" opacity="0.06"/>
<rect x="462.3" y="88.7" width="46.3" height="3.3" fill="url(#gT)" opacity="0.01"/>
<rect x="461.1" y="92" width="55.9" height="41.9" fill="#f4f4f4"/>
<rect x="462.4" y="93.3" width="53.3" height="39.3" fill="#000"/>
<rect x="468.3" y="99.2" width="55.9" height="41.9" fill="#f4f4f4"/>
<rect x="469.6" y="100.5" width="53.3" height="39.3" fill="#000"/>
<rect x="475.4" y="106.3" width="55.9" height="41.9" fill="#f4f4f4"/>
<rect x="476.7" y="107.6" width="53.3" height="39.3" fill="#000"/>
<rect x="482.5" y="113.4" width="55.9" height="41.9" fill="#f4f4f4"/>
<rect x="483.8" y="114.7" width="53.3" height="39.3" fill="#000"/>
<rect x="489.6" y="120.5" width="55.9" height="41.4" fill="#f4f4f4"/>
<rect x="490.9" y="121.8" width="53.3" height="38.8" fill="#000"/>
<g transform="translate(490.9 121.8)" clip-path="url(#clipI)">
<g><rect width="53.3" height="38.9" fill="#000"/>
<g filter="url(#blur)">
<path d="M17,6.5 L53.3,5 L53.3,38.9 L0,38.9 L0,24 Q9,16 17,6.5 Z" fill="#5a5a5a"/>
<path d="M31,23 L31.3,35" fill="none" stroke="#727272" stroke-width="3.4" stroke-linecap="round"/>
<path d="M42.3,15 L41.8,35" fill="none" stroke="#6c6c6c" stroke-width="3.2" stroke-linecap="round"/>
<path d="M50.5,12 L50.5,30" fill="none" stroke="#666" stroke-width="2" stroke-linecap="round"/>
</g>
<g filter="url(#blur2)" fill="none" stroke="#000" stroke-linecap="round">
<path d="M15.7,9 Q11.5,19 0.7,34" stroke-width="2.55"/>
<path d="M19.3,9.7 Q16.8,20 8,39.5" stroke-width="2.38"/>
<path d="M22.9,10.4 Q22.3,20 18,39.5" stroke-width="2.21"/>
<path d="M26.4,10.4 L26.2,39.5" stroke-width="2.21"/>
<path d="M31.4,8.5 L31.4,16.9 Q34.5,24 36.6,39.5" stroke-width="2.72"/>
<path d="M31.4,15 Q30.5,18 29.3,19.8" stroke-width="1.87"/>
<path d="M38.6,8.3 Q38.2,22 36.8,39.5" stroke-width="2.21"/>
<path d="M46.4,6.9 L46,39.5" stroke-width="2.55"/>
</g>
<rect width="53.3" height="38.9" fill="url(#gFade)"/>
<rect width="53.3" height="38.9" fill="url(#gFadeL)"/>
</g>
</g>
<rect x="411.1" y="169.7" width="55.9" height="41.9" fill="#f4f4f4"/>
<rect x="412.4" y="171" width="53.3" height="39.3" fill="#000"/>
<rect x="412.4" y="177" width="5.8" height="33.3" fill="url(#gL)" opacity="0.6"/>
<rect x="419.4" y="173.5" width="46.3" height="3.3" fill="url(#gT)" opacity="0.15"/>
<rect x="418.3" y="176.8" width="55.9" height="41.9" fill="#f4f4f4"/>
<rect x="419.6" y="178.1" width="53.3" height="39.3" fill="#000"/>
<rect x="419.6" y="184.1" width="5.8" height="33.3" fill="url(#gL)" opacity="0.8"/>
<rect x="426.6" y="180.6" width="46.3" height="3.3" fill="url(#gT)" opacity="0.2"/>
<rect x="425.4" y="183.9" width="55.9" height="41.9" fill="#f4f4f4"/>
<rect x="426.7" y="185.2" width="53.3" height="39.3" fill="#000"/>
<rect x="426.7" y="191.2" width="5.8" height="33.3" fill="url(#gL)" opacity="0.25"/>
<rect x="433.7" y="187.7" width="46.3" height="3.3" fill="url(#gT)" opacity="0.06"/>
<rect x="431.7" y="190.1" width="55.9" height="41.9" fill="#f4f4f4"/>
<rect x="433" y="191.4" width="53.3" height="39.3" fill="#000"/>
<rect x="433" y="197.4" width="5.8" height="33.3" fill="url(#gL)" opacity="1.0"/>
<rect x="440" y="193.9" width="46.3" height="3.3" fill="url(#gT)" opacity="0.7"/>
<rect x="439.6" y="198.2" width="55.9" height="41.9" fill="#f4f4f4"/>
<rect x="440.9" y="199.5" width="53.3" height="39.3" fill="#000"/>
<rect x="440.9" y="205.5" width="5.8" height="33.3" fill="url(#gL)" opacity="0.4"/>
<rect x="447.9" y="202" width="46.3" height="3.3" fill="url(#gT)" opacity="0.1"/>
<rect x="446.8" y="205.3" width="55.9" height="41.9" fill="#f4f4f4"/>
<rect x="448.1" y="206.6" width="53.3" height="39.3" fill="#000"/>
<rect x="448.1" y="212.6" width="5.8" height="33.3" fill="url(#gL)" opacity="0.12"/>
<rect x="455.1" y="209.1" width="46.3" height="3.3" fill="url(#gT)" opacity="0.03"/>
<rect x="453.9" y="212.4" width="55.9" height="41.9" fill="#f4f4f4"/>
<rect x="455.2" y="213.7" width="53.3" height="39.3" fill="#000"/>
<rect x="455.2" y="219.7" width="5.8" height="33.3" fill="url(#gL)" opacity="0.06"/>
<rect x="462.2" y="216.2" width="46.3" height="3.3" fill="url(#gT)" opacity="0.01"/>
<rect x="461" y="219.5" width="55.9" height="41.9" fill="#f4f4f4"/>
<rect x="462.3" y="220.8" width="53.3" height="39.3" fill="#000"/>
<rect x="468.1" y="226.7" width="55.9" height="41.9" fill="#f4f4f4"/>
<rect x="469.4" y="228" width="53.3" height="39.3" fill="#000"/>
<rect x="475.2" y="233.8" width="55.9" height="41.9" fill="#f4f4f4"/>
<rect x="476.5" y="235.1" width="53.3" height="39.3" fill="#000"/>
<rect x="482.3" y="240.9" width="55.9" height="41.9" fill="#f4f4f4"/>
<rect x="483.6" y="242.2" width="53.3" height="39.3" fill="#000"/>
<rect x="489.5" y="248" width="55.9" height="41.4" fill="#f4f4f4"/>
<rect x="490.8" y="249.3" width="53.3" height="38.8" fill="#000"/>
<g transform="translate(490.8 249.3)" clip-path="url(#clipI)">
<g><rect width="53.3" height="38.9" fill="#000"/>
<g filter="url(#blur)">
<path d="M6,6 L53.3,5 L53.3,38.9 L0,38.9 L0,20 Z" fill="#646464"/>
<path d="M35.2,20 L33,36" fill="none" stroke="#a0a0a0" stroke-width="3.2" stroke-linecap="round"/>
<path d="M42.2,22 L43.8,36" fill="none" stroke="#7c7c7c" stroke-width="2.8" stroke-linecap="round"/>
<path d="M25.8,27 L24.2,36" fill="none" stroke="#6e6e6e" stroke-width="2" stroke-linecap="round"/>
</g>
<g filter="url(#blur2)" fill="none" stroke="#000" stroke-linecap="round">
<path d="M8.6,6.4 Q6.5,16 0,31" stroke-width="2.38"/>
<path d="M12.9,6.4 Q11.5,19 6.3,39.5" stroke-width="2.55"/>
<path d="M17.9,7.9 Q17,19 13.2,32" stroke-width="2.04"/>
<path d="M22.9,8.6 L23.1,16 Q24,19.5 25,20" stroke-width="2.38"/>
<path d="M27.9,9.3 Q27.6,15 25,20" stroke-width="2.04"/>
<path d="M25,20 Q23.5,28 20,39.5" stroke-width="2.38"/>
<path d="M32.9,6.4 Q31.5,18 26,39.5" stroke-width="2.55"/>
<path d="M37.9,5 Q38.6,20 39.4,39.5" stroke-width="2.38"/>
<path d="M43.6,6.4 Q45.5,19 50,39.5" stroke-width="2.55"/>
<path d="M43.8,8 L44.2,10.5" stroke-width="2.38"/>
</g>
<rect width="53.3" height="38.9" fill="url(#gFade)"/>
<rect width="53.3" height="38.9" fill="url(#gFadeL)"/>
</g>
</g>
</svg></body></html>
